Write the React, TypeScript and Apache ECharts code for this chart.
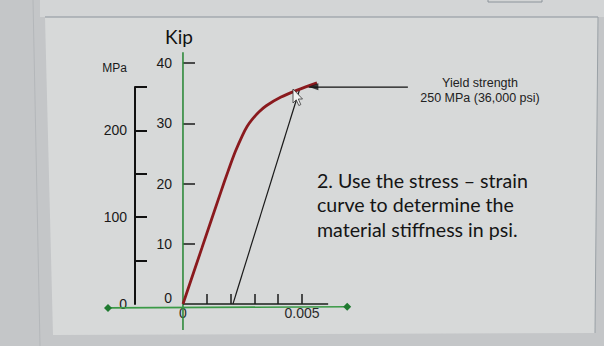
import React, { useEffect, useRef } from "react";
import * as echarts from "echarts";

// ---- data ----
const strainPts = [0, 0.0008, 0.0016, 0.0019, 0.0022, 0.0025, 0.0027, 0.0029, 0.0032, 0.0035, 0.0041, 0.0048, 0.00563];
const kipPts = [0, 9.35, 18.7, 22.1, 25.3, 28.0, 29.5, 30.6, 31.9, 32.9, 34.3, 35.5, 36.7];
const offsetStrain = [0.0021, 0.0049];
const offsetKip = [0, 35.6];
const yieldStrain = [0.00528, 0.00945];
const yieldKip = 36;
const strainAxisEnd = 0.0061;
const greenAxisStrain = [-0.00315, 0.0069];
const strainMin = -0.00315;
const strainMax = 0.0095;
const kipTicks = [10, 20, 30, 40];
const kipLabels = [0, 10, 20, 30, 40];
const mpaTicks = [50, 100, 150, 200, 250];
const mpaLabels = [0, 100, 200];
const strainTicks = [0.001, 0.002, 0.003, 0.004, 0.005];
const strainLabels = [0, 0.005];
const noteLines = ["2. Use the stress \u2013 strain", "curve to determine the", "material stiffness in psi."];
const yieldLines = ["Yield strength", "250 MPa (36,000 psi)"];

const SANS = "'Liberation Sans', Arial, sans-serif";
const HUM = "Lato, 'Open Sans', sans-serif";
const PX_PER_STRAIN = 23800;

export default function App() {
  const ref = useRef<HTMLDivElement>(null);
  useEffect(() => {
    if (!ref.current) return;
    const chart = echarts.init(ref.current, undefined, { renderer: "svg" });
    const curve = strainPts.map((s, i) => [s, kipPts[i]]);
    const option: any = {
      animation: false,
      backgroundColor: "#c4c6c8",
      grid: [
        { left: 108, top: 63, width: (strainMax - strainMin) * PX_PER_STRAIN, height: 241 },
        { left: 135, top: 87, width: 10, height: 217 },
      ],
      xAxis: [
        {
          gridIndex: 0,
          type: "value",
          min: strainMin,
          max: strainMax,
          splitLine: { show: false },
          axisLine: { show: false },
          axisTick: { show: true, inside: true, length: 10, customValues: strainTicks, lineStyle: { color: "#1a1a1a", width: 1.5 } },
          axisLabel: {
            show: true,
            customValues: strainLabels,
            margin: 2,
            fontSize: 14,
            fontFamily: SANS,
            color: "#2a2a2a",
            formatter: (v: number) => (v === 0 ? "0" : "0.005"),
          },
        },
        { gridIndex: 1, type: "value", min: 0, max: 1, show: false },
      ],
      yAxis: [
        {
          gridIndex: 0,
          type: "value",
          min: 0,
          max: 40,
          position: "left",
          offset: -75,
          name: "Kip",
          nameLocation: "end",
          nameGap: 17,
          nameTextStyle: { fontSize: 19, fontFamily: HUM, color: "#111", padding: [0, 8, 0, 0] },
          splitLine: { show: false },
          axisLine: { show: false },
          axisTick: { show: true, inside: true, length: 12, customValues: kipTicks, lineStyle: { color: "#1a1a1a", width: 1.5 } },
          axisLabel: {
            show: true,
            customValues: kipLabels,
            margin: 11,
            fontSize: 14,
            fontFamily: SANS,
            color: "#1a1a1a",
            formatter: (v: number) => (v === 0 ? "{z|0}" : String(v)),
            rich: { z: { fontSize: 14, fontFamily: SANS, color: "#1a1a1a", padding: [0, 0, 12, 0] } },
          },
        },
        {
          gridIndex: 1,
          type: "value",
          min: 0,
          max: 250,
          position: "left",
          name: "MPa",
          nameLocation: "end",
          nameGap: 13,
          nameTextStyle: { fontSize: 12, fontFamily: SANS, color: "#1a1a1a", align: "right", padding: [0, 8, 0, 0] },
          splitLine: { show: false },
          axisLine: { show: true, lineStyle: { color: "#111", width: 2 } },
          axisTick: { show: true, inside: true, length: 12, customValues: mpaTicks, lineStyle: { color: "#111", width: 2 } },
          axisLabel: {
            show: true,
            customValues: mpaLabels,
            margin: 8,
            fontSize: 14,
            fontFamily: SANS,
            color: "#1a1a1a",
          },
        },
      ],
      series: [
        {
          type: "line",
          data: [[0, 41.8], [0, -4.3]],
          symbol: "none",
          clip: false,
          lineStyle: { color: "#2f8a3c", width: 1.6 },
          z: 1,
        },
        {
          type: "line",
          data: [[greenAxisStrain[0], -0.65], [greenAxisStrain[1], -0.45]],
          symbol: "diamond",
          symbolSize: 8,
          showSymbol: true,
          clip: false,
          itemStyle: { color: "#1f7a30" },
          lineStyle: { color: "#3a9a46", width: 1.6 },
          z: 1,
        },
        {
          type: "line",
          data: [[0, 0], [strainAxisEnd, 0]],
          symbol: "none",
          clip: false,
          lineStyle: { color: "#1a1f1a", width: 1.5 },
          z: 2,
        },
        {
          type: "line",
          data: curve,
          smooth: 0.3,
          symbol: "none",
          clip: false,
          lineStyle: { color: "#8a1a1e", width: 2.8 },
          z: 4,
        },
        {
          type: "line",
          data: offsetStrain.map((s, i) => [s, offsetKip[i]]),
          symbol: "none",
          clip: false,
          lineStyle: { color: "#1a1a1a", width: 1.2 },
          z: 3,
        },
        {
          type: "line",
          data: yieldStrain.map((s) => [s, yieldKip]),
          symbol: "none",
          clip: false,
          lineStyle: { color: "#111", width: 1.3 },
          z: 3,
        },
        {
          type: "scatter",
          data: [[yieldStrain[0] + 0.0002, yieldKip + 0.05]],
          symbol: "triangle",
          symbolSize: [7, 10],
          symbolRotate: 90,
          clip: false,
          itemStyle: { color: "#111" },
          z: 5,
        },
      ],
      graphic: [
        { type: "rect", shape: { x: 40, y: 0, width: 564, height: 17 }, style: { fill: "#d3d5d6" }, z: -10 },
        { type: "polygon", shape: { points: [[45, 17], [598, 17], [595, 333], [53, 335]] }, style: { fill: "#d7d9d9" }, z: -9 },
        { type: "line", shape: { x1: 45, y1: 17, x2: 598, y2: 17 }, style: { stroke: "#8c949b", lineWidth: 1.2 }, z: -8 },
        { type: "line", shape: { x1: 598, y1: 17, x2: 595, y2: 333 }, style: { stroke: "#9aa1a6", lineWidth: 1 }, z: -8 },
        { type: "line", shape: { x1: 33, y1: 0, x2: 40, y2: 346 }, style: { stroke: "#b4b7ba", lineWidth: 1 }, z: -8 },
        { type: "rect", shape: { x: 488, y: -4, width: 54, height: 6 }, style: { fill: "none", stroke: "#8c949b", lineWidth: 1 }, z: -8 },
        {
          type: "polygon",
          shape: { points: [[293, 89], [293, 103], [296.2, 99.8], [298.8, 105.5], [300.8, 104.6], [298.3, 99], [302.5, 99]] },
          style: { fill: "#f2f2f2", stroke: "#333", lineWidth: 0.8 },
          z: 100,
        },
        { type: "text", x: 480, y: 82.5, style: { text: yieldLines[0], font: "12.5px " + SANS, fill: "#222", align: "center", verticalAlign: "middle" } },
        { type: "text", x: 480, y: 98, style: { text: yieldLines[1], font: "12.5px " + SANS, fill: "#222", align: "center", verticalAlign: "middle" } },
        ...noteLines.map((t, i) => ({
          type: "text",
          x: 317,
          y: 180 + i * 24.5,
          style: { text: t, font: "19.6px " + HUM, fill: "#151515", align: "left", verticalAlign: "middle" },
        })),
      ],
    };
    chart.setOption(option);
    return () => chart.dispose();
  }, []);
  return <div ref={ref} style={{ position: "fixed", left: 0, top: 0, width: 604, height: 346 }} />;
}
